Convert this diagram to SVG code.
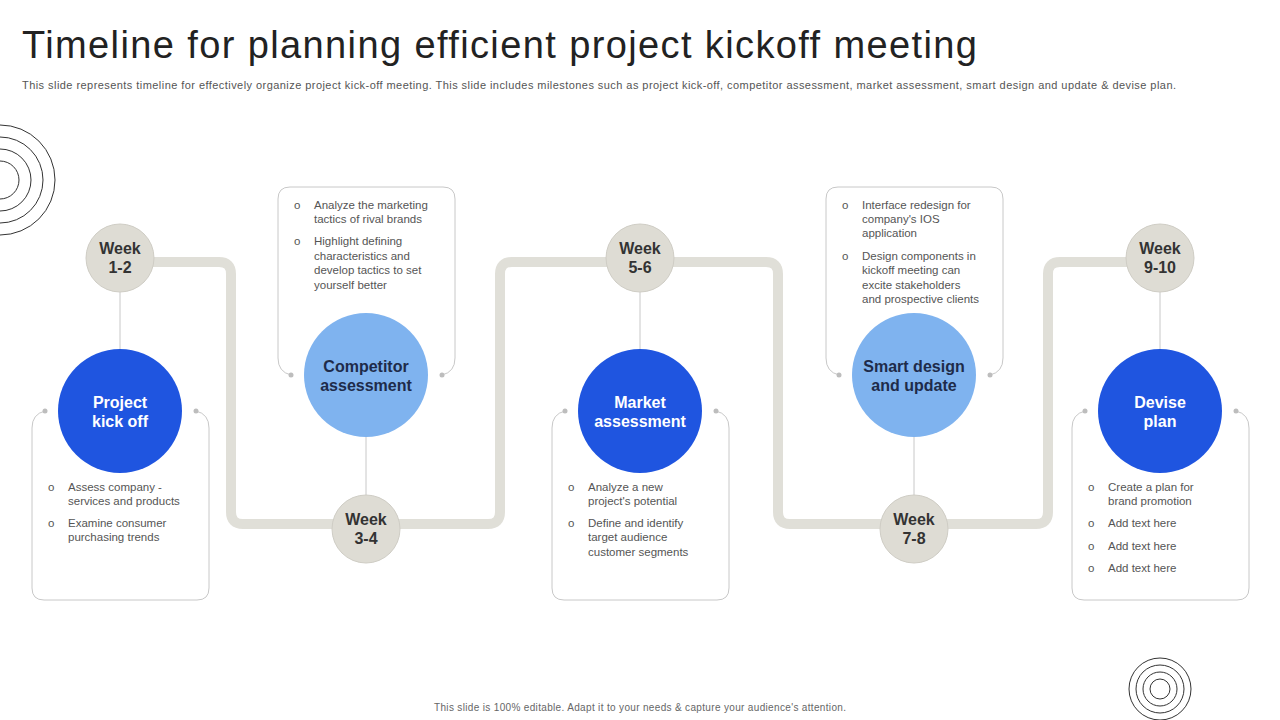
<svg xmlns="http://www.w3.org/2000/svg" width="1280" height="720" viewBox="0 0 1280 720">
<style>
.t{font-family:"Liberation Sans",Arial,sans-serif}
.wk{fill:#dedcd4;stroke:#cfcdc5;stroke-width:1}
.wt{font-family:"Liberation Sans",Arial,sans-serif;font-weight:bold;font-size:16px;fill:#333;text-anchor:middle}
.dk{fill:#1f55e0}
.lt{fill:#7fb3ef}
.mt{font-family:"Liberation Sans",Arial,sans-serif;font-weight:bold;font-size:16px;text-anchor:middle}
.br{fill:none;stroke:#c8c8c8;stroke-width:1}
.dot{fill:#bdbdbd}
.b{font-family:"Liberation Sans",Arial,sans-serif;font-size:11.5px;fill:#555}
.bl{font-family:"Liberation Sans",Arial,sans-serif;font-size:10px;fill:#666}
.cc{fill:none;stroke:#333;stroke-width:1}
.vl{stroke:#c8c8c8;stroke-width:1}
</style>
<rect width="1280" height="720" fill="#fff"/>
<text class="t" x="22" y="58" font-size="38" fill="#222" textLength="955" lengthAdjust="spacing">Timeline for planning efficient project kickoff meeting</text>
<text class="t" x="22" y="89" font-size="11" fill="#555" textLength="1154" lengthAdjust="spacing">This slide represents timeline for effectively organize project kick-off meeting. This slide includes milestones such as project kick-off, competitor assessment, market assessment, smart design and update &amp; devise plan.</text>
<g id="deco">
<circle class="cc" cx="0" cy="180" r="55"/><circle class="cc" cx="0" cy="180" r="43"/><circle class="cc" cx="0" cy="180" r="31"/><circle class="cc" cx="0" cy="180" r="19"/>
<circle class="cc" cx="1160" cy="689" r="31"/><circle class="cc" cx="1160" cy="689" r="24"/><circle class="cc" cx="1160" cy="689" r="17"/><circle class="cc" cx="1160" cy="689" r="10"/>
</g>
<g id="connectors">
<path d="M120 262 H219 Q231 262 231 274 V512 Q231 524 243 524 H488 Q500 524 500 512 V274 Q500 262 512 262 H766 Q778 262 778 274 V512 Q778 524 790 524 H1036 Q1048 524 1048 512 V274 Q1048 262 1060 262 H1160" fill="none" stroke="#e0dfd8" stroke-width="10"/>
<line class="vl" x1="120" y1="292" x2="120" y2="350"/>
<line class="vl" x1="366" y1="437" x2="366" y2="495"/>
<line class="vl" x1="640" y1="292" x2="640" y2="350"/>
<line class="vl" x1="914" y1="437" x2="914" y2="495"/>
<line class="vl" x1="1160" y1="292" x2="1160" y2="350"/>
<path class="br" d="M45 411 Q32 414 32 428 V588 Q32 600 44 600 H197 Q209 600 209 588 V428 Q209 414 196 411"/>
<path class="br" d="M565 411 Q552 414 552 428 V588 Q552 600 564 600 H717 Q729 600 729 588 V428 Q729 414 716 411"/>
<path class="br" d="M1085 411 Q1072 414 1072 428 V588 Q1072 600 1084 600 H1237 Q1249 600 1249 588 V428 Q1249 414 1236 411"/>
<path class="br" d="M291 375 Q278 372 278 358 V199 Q278 187 290 187 H443 Q455 187 455 199 V358 Q455 372 442 375"/>
<path class="br" d="M839 375 Q826 372 826 358 V199 Q826 187 838 187 H991 Q1003 187 1003 199 V358 Q1003 372 990 375"/>
<circle class="dot" cx="45" cy="411" r="2.5"/><circle class="dot" cx="196" cy="411" r="2.5"/>
<circle class="dot" cx="565" cy="411" r="2.5"/><circle class="dot" cx="716" cy="411" r="2.5"/>
<circle class="dot" cx="1085" cy="411" r="2.5"/><circle class="dot" cx="1236" cy="411" r="2.5"/>
<circle class="dot" cx="291" cy="375" r="2.5"/><circle class="dot" cx="442" cy="375" r="2.5"/>
<circle class="dot" cx="839" cy="375" r="2.5"/><circle class="dot" cx="990" cy="375" r="2.5"/>
</g>
<g id="w1"><circle class="wk" cx="120" cy="258" r="34"/><text class="wt" x="120" y="254">Week</text><text class="wt" x="120" y="273">1-2</text></g>
<g id="w2"><circle class="wk" cx="366" cy="529" r="34"/><text class="wt" x="366" y="525">Week</text><text class="wt" x="366" y="544">3-4</text></g>
<g id="w3"><circle class="wk" cx="640" cy="258" r="34"/><text class="wt" x="640" y="254">Week</text><text class="wt" x="640" y="273">5-6</text></g>
<g id="w4"><circle class="wk" cx="914" cy="529" r="34"/><text class="wt" x="914" y="525">Week</text><text class="wt" x="914" y="544">7-8</text></g>
<g id="w5"><circle class="wk" cx="1160" cy="258" r="34"/><text class="wt" x="1160" y="254">Week</text><text class="wt" x="1160" y="273">9-10</text></g>
<g id="n1"><circle class="dk" cx="120" cy="411" r="62"/><text class="mt" x="120" y="408" fill="#fff">Project</text><text class="mt" x="120" y="427" fill="#fff">kick off</text>
<text class="b" x="48" y="491">o</text><text class="b" x="68" y="491">Assess company -</text><text class="b" x="68" y="505">services and products</text>
<text class="b" x="48" y="527">o</text><text class="b" x="68" y="527">Examine consumer</text><text class="b" x="68" y="541">purchasing trends</text></g>
<g id="n2"><circle class="lt" cx="366" cy="375" r="62"/><text class="mt" x="366" y="372" fill="#1e2b4a">Competitor</text><text class="mt" x="366" y="391" fill="#1e2b4a">assessment</text>
<text class="b" x="294" y="209">o</text><text class="b" x="314" y="209">Analyze the marketing</text><text class="b" x="314" y="223">tactics of rival brands</text>
<text class="b" x="294" y="245">o</text><text class="b" x="314" y="245">Highlight defining</text><text class="b" x="314" y="260">characteristics and</text><text class="b" x="314" y="274">develop tactics to set</text><text class="b" x="314" y="289">yourself better</text></g>
<g id="n3"><circle class="dk" cx="640" cy="411" r="62"/><text class="mt" x="640" y="408" fill="#fff">Market</text><text class="mt" x="640" y="427" fill="#fff">assessment</text>
<text class="b" x="568" y="491">o</text><text class="b" x="588" y="491">Analyze a new</text><text class="b" x="588" y="505">project's potential</text>
<text class="b" x="568" y="527">o</text><text class="b" x="588" y="527">Define and identify</text><text class="b" x="588" y="541">target audience</text><text class="b" x="588" y="556">customer segments</text></g>
<g id="n4"><circle class="lt" cx="914" cy="375" r="62"/><text class="mt" x="914" y="372" fill="#1e2b4a">Smart design</text><text class="mt" x="914" y="391" fill="#1e2b4a">and update</text>
<text class="b" x="842" y="209">o</text><text class="b" x="862" y="209">Interface redesign for</text><text class="b" x="862" y="223">company's IOS</text><text class="b" x="862" y="237">application</text>
<text class="b" x="842" y="260">o</text><text class="b" x="862" y="260">Design components in</text><text class="b" x="862" y="274">kickoff meeting can</text><text class="b" x="862" y="289">excite stakeholders</text><text class="b" x="862" y="303">and prospective clients</text></g>
<g id="n5"><circle class="dk" cx="1160" cy="411" r="62"/><text class="mt" x="1160" y="408" fill="#fff">Devise</text><text class="mt" x="1160" y="427" fill="#fff">plan</text>
<text class="b" x="1088" y="491">o</text><text class="b" x="1108" y="491">Create a plan for</text><text class="b" x="1108" y="505">brand promotion</text>
<text class="b" x="1088" y="527">o</text><text class="b" x="1108" y="527">Add text here</text>
<text class="b" x="1088" y="550">o</text><text class="b" x="1108" y="550">Add text here</text>
<text class="b" x="1088" y="572">o</text><text class="b" x="1108" y="572">Add text here</text></g>
<text class="bl" x="434" y="711" textLength="412" lengthAdjust="spacing">This slide is 100% editable.  Adapt it to your needs &amp; capture your audience's attention.</text>
</svg>
